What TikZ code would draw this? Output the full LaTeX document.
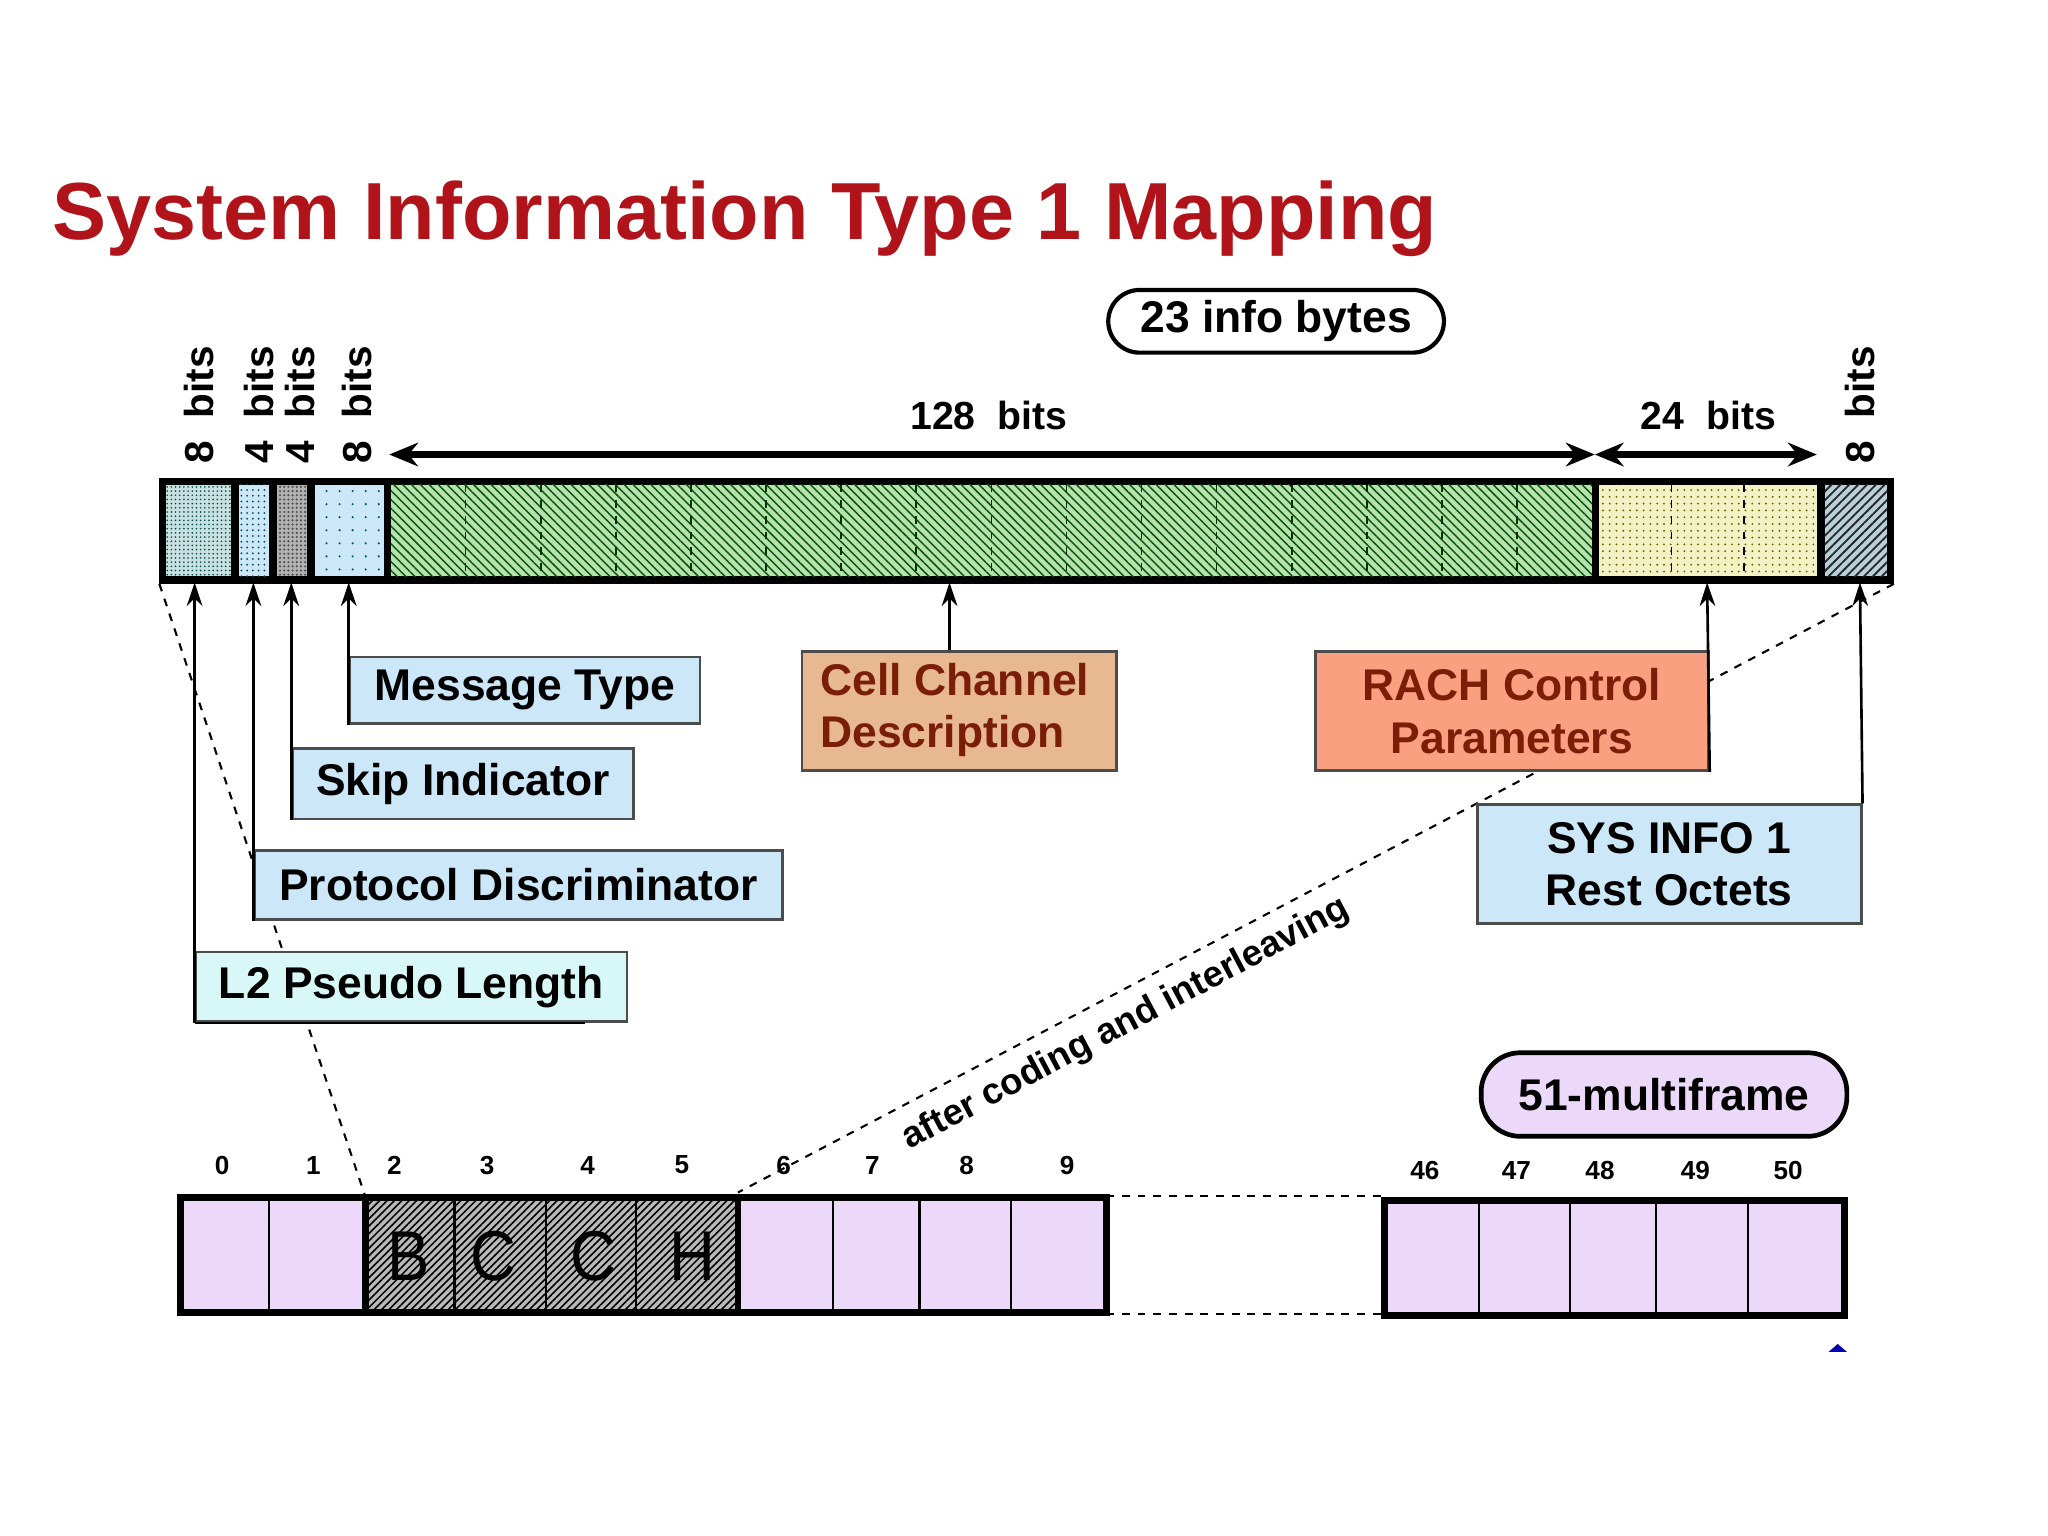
\documentclass[tikz,border=0pt]{standalone}
\usepackage{fontspec}
\setmainfont{Liberation Sans}
\usetikzlibrary{arrows.meta,patterns.meta}
\definecolor{ttl}{HTML}{B0141A}
\definecolor{lblue}{HTML}{CCE8F8}
\definecolor{lcyan}{HTML}{D8F8F8}
\definecolor{tan}{HTML}{E8B890}
\definecolor{salmon}{HTML}{F8A080}
\definecolor{brn}{HTML}{7A1E08}
\definecolor{lav}{HTML}{ECD8F8}
\definecolor{grn}{HTML}{B8E0B0}
\definecolor{ylw}{HTML}{F2F2C4}
\definecolor{seg1}{HTML}{C8E0E0}
\definecolor{seg7}{HTML}{B8D0D8}
\begin{document}
\begin{tikzpicture}[x=0.5pt,y=-0.5pt,
  lbl/.style={draw=black!70,line width=1pt,fill=lblue,font=\fontsize{17}{20}\selectfont\bfseries,inner sep=0pt,anchor=north west},
  bits/.style={font=\fontsize{15}{18}\selectfont\bfseries},
  vbits/.style={font=\fontsize{15.5}{18}\selectfont\bfseries,rotate=90},
  num/.style={font=\fontsize{10}{12}\selectfont\bfseries},
  up/.style={line width=1pt,-{Stealth[length=9pt,width=6pt]}},
  dd/.style={dashed,line width=0.8pt},
  cell/.style={draw=black,line width=0.8pt}]
\useasboundingbox (0,0) rectangle (1568,1176);
\fill[white] (0,0) rectangle (1568,1176);
% title
\node[anchor=base west,text=ttl,font=\fontsize{31}{36}\selectfont\bfseries,inner sep=0pt] (title) at (40,183) {System Information Type 1 Mapping};
\node[draw,line width=1.6pt,rounded corners=12pt,minimum width=128.5pt,minimum height=24pt,font=\fontsize{17}{20}\selectfont\bfseries] (info) at (977,246) {23 info bytes};
% top bar
\fill[black] (122,366) rectangle (1450,447);
\coordinate (b1) at (149,446); \coordinate (b2) at (194,446); \coordinate (b3) at (223,446); \coordinate (b4) at (267,446);
\coordinate (b5) at (727,446); \coordinate (b6) at (1307,446); \coordinate (b7) at (1424,446);
\coordinate (bl) at (122,447); \coordinate (br) at (1450,447);
\fill[seg1] (127,371) rectangle (177,441);
\fill[pattern={Dots[radius=0.35pt,distance=1.6pt]},pattern color=teal!60!black] (127,371) rectangle (177,441);
\fill[lblue] (183,371) rectangle (206,441);
\fill[pattern={Dots[radius=0.4pt,distance=2.2pt]},pattern color=teal!60!black] (183,371) rectangle (206,441);
\fill[gray!60] (212,371) rectangle (235,441);
\fill[pattern={Dots[radius=0.45pt,distance=1.6pt]},pattern color=black!70] (212,371) rectangle (235,441);
\fill[lblue] (241,371) rectangle (294,441);
\fill[pattern={Dots[radius=0.45pt,distance=5pt]},pattern color=teal!70!black] (241,371) rectangle (294,441);
\fill[grn] (299,371) rectangle (1219,441);
\fill[pattern={Lines[angle=-45,distance=2.4pt,line width=0.55pt]},pattern color=green!35!black] (299,371) rectangle (1219,441);
\foreach \i in {1,...,15} \draw[dashed,line width=0.6pt,green!20!black] ({299+\i*57.5},371) -- ({299+\i*57.5},441);
\fill[ylw] (1224,371) rectangle (1391,441);
\fill[pattern={Dots[radius=0.4pt,distance=2.6pt]},pattern color=olive!80!black] (1224,371) rectangle (1391,441);
\foreach \i in {1,2} \draw[dashed,line width=0.6pt,black] ({1224+\i*55.7},371) -- ({1224+\i*55.7},441);
\fill[seg7] (1397,371) rectangle (1445,441);
\fill[pattern={Lines[angle=45,distance=2.4pt,line width=0.7pt]},pattern color=black!85] (1397,371) rectangle (1445,441);
% bit labels
\node[vbits] (v1) at (152,310) {8\ \ bits};
\node[vbits] (v2) at (198,310) {4\ \ bits};
\node[vbits] (v3) at (230,310) {4\ \ bits};
\node[vbits] (v4) at (273,310) {8\ \ bits};
\node[vbits] (v5) at (1424,310) {8\ \ bits};
\node[bits] (t128) at (757,318) {128\ \ bits};
\node[bits] (t24) at (1308,318) {24\ \ bits};
\coordinate (a1) at (298,348); \coordinate (a2) at (1221,348); \coordinate (a3) at (1391,348);
\draw[line width=2.6pt,{Stealth[length=11pt,width=9pt]}-{Stealth[length=11pt,width=9pt]}] (a1) -- (a2);
\draw[line width=2.6pt,{Stealth[length=11pt,width=9pt]}-{Stealth[length=11pt,width=9pt]}] (a2) -- (a3);
% dashed mapping lines
\coordinate (f2) at (280,917); \coordinate (f6) at (565,913);
\draw[dd] (bl) -- (f2);
\draw[dd] (br) -- (f6);
\node[rotate=28,font=\fontsize{14}{16}\selectfont\bfseries,inner sep=1pt] (acl) at (862,784) {after coding and interleaving};
% label boxes
\node[lbl,minimum width=134pt,minimum height=25.5pt] (mt) at (267,502) {};
\node[font=\fontsize{17}{20}\selectfont\bfseries] at (mt.center) {Message Type};
\node[lbl,minimum width=130.5pt,minimum height=27pt] (si) at (223,572) {};
\node[font=\fontsize{17}{20}\selectfont\bfseries] at (si.center) {Skip Indicator};
\node[lbl,minimum width=202pt,minimum height=26.5pt] (pd) at (194,650) {};
\node[font=\fontsize{17}{20}\selectfont\bfseries] at (pd.center) {Protocol Discriminator};
\node[lbl,fill=lcyan,minimum width=165pt,minimum height=26.5pt] (l2) at (149,728) {};
\node[font=\fontsize{17}{20}\selectfont\bfseries] at (l2.center) {L2 Pseudo Length};
\draw[line width=0.8pt] (149,783) -- (448,783);
\node[lbl,fill=tan,minimum width=120.5pt,minimum height=45.5pt] (cc) at (613,498) {};
\node[align=left,text=brn,font=\fontsize{17}{20}\selectfont\bfseries,anchor=west] at (621,543.5) {Cell Channel\\Description};
\node[lbl,fill=salmon,minimum width=150.5pt,minimum height=45.5pt] (rach) at (1006,498) {};
\node[align=center,text=brn,font=\fontsize{17}{20}\selectfont\bfseries] at (rach.center) {RACH Control\\Parameters};
\node[lbl,minimum width=147pt,minimum height=45.5pt] (sys) at (1130,615) {};
\node[align=center,font=\fontsize{17}{20}\selectfont\bfseries] at (sys.center) {SYS INFO 1\\Rest Octets};
% connectors
\draw[up] (149,783) -- (b1);
\draw[up] (pd.south west) -- (b2);
\draw[up] (si.south west) -- (b3);
\draw[up] (mt.south west) -- (b4);
\draw[up] (cc.north -| b5) -- (b5);
\draw[up] (rach.south east) -- (b6);
\draw[up] (sys.north east) -- (b7);
% multiframe label
\node[draw,line width=1.8pt,fill=lav,rounded corners=15pt,minimum width=140pt,minimum height=32pt,font=\fontsize{17}{20}\selectfont\bfseries] (mf) at (1274,838) {51-multiframe};
% bottom frames
\fill[lav] (138,917) rectangle (847,1005);
\fill[gray!55] (280,917) rectangle (565,1005);
\fill[pattern={Lines[angle=45,distance=2pt,line width=0.6pt]},pattern color=black] (280,917) rectangle (565,1005);
\foreach \x in {206,348,418,487,638,704,774} \draw[cell] (\x,917) -- (\x,1005);
\draw[line width=2.5pt] (138,917) rectangle (847,1005);
\draw[line width=2.5pt] (280,917) -- (280,1005) (565,917) -- (565,1005);
\foreach \c/\x in {B/313,C/378,C/454,H/530}
  \node[font=\fontsize{27}{30}\selectfont,xscale=0.9] at (\x,962) {\c};
\foreach \n/\x in {0/170,1/240,2/302,3/373,4/450,5/522,6/600,7/668,8/740,9/817}
  \node[num] at (\x,892) {\n};
\fill[lav] (1060,919) rectangle (1412,1007);
\foreach \x in {1132,1202,1268,1338} \draw[cell] (\x,919) -- (\x,1007);
\draw[line width=2.5pt] (1060,919) rectangle (1412,1007);
\foreach \n/\x in {46/1091,47/1161,48/1225,49/1298,50/1369}
  \node[num] at (\x,896) {\n};
\coordinate (g1) at (847,916); \coordinate (g2) at (1060,916);
\coordinate (g3) at (847,1006); \coordinate (g4) at (1060,1006);
\draw[dashed,line width=0.8pt] (g1) -- (g2) (g3) -- (g4);
\fill[blue!70!black] (1400,1035) -- (1407,1029) -- (1414,1035) -- cycle;
\end{tikzpicture}
\end{document}
